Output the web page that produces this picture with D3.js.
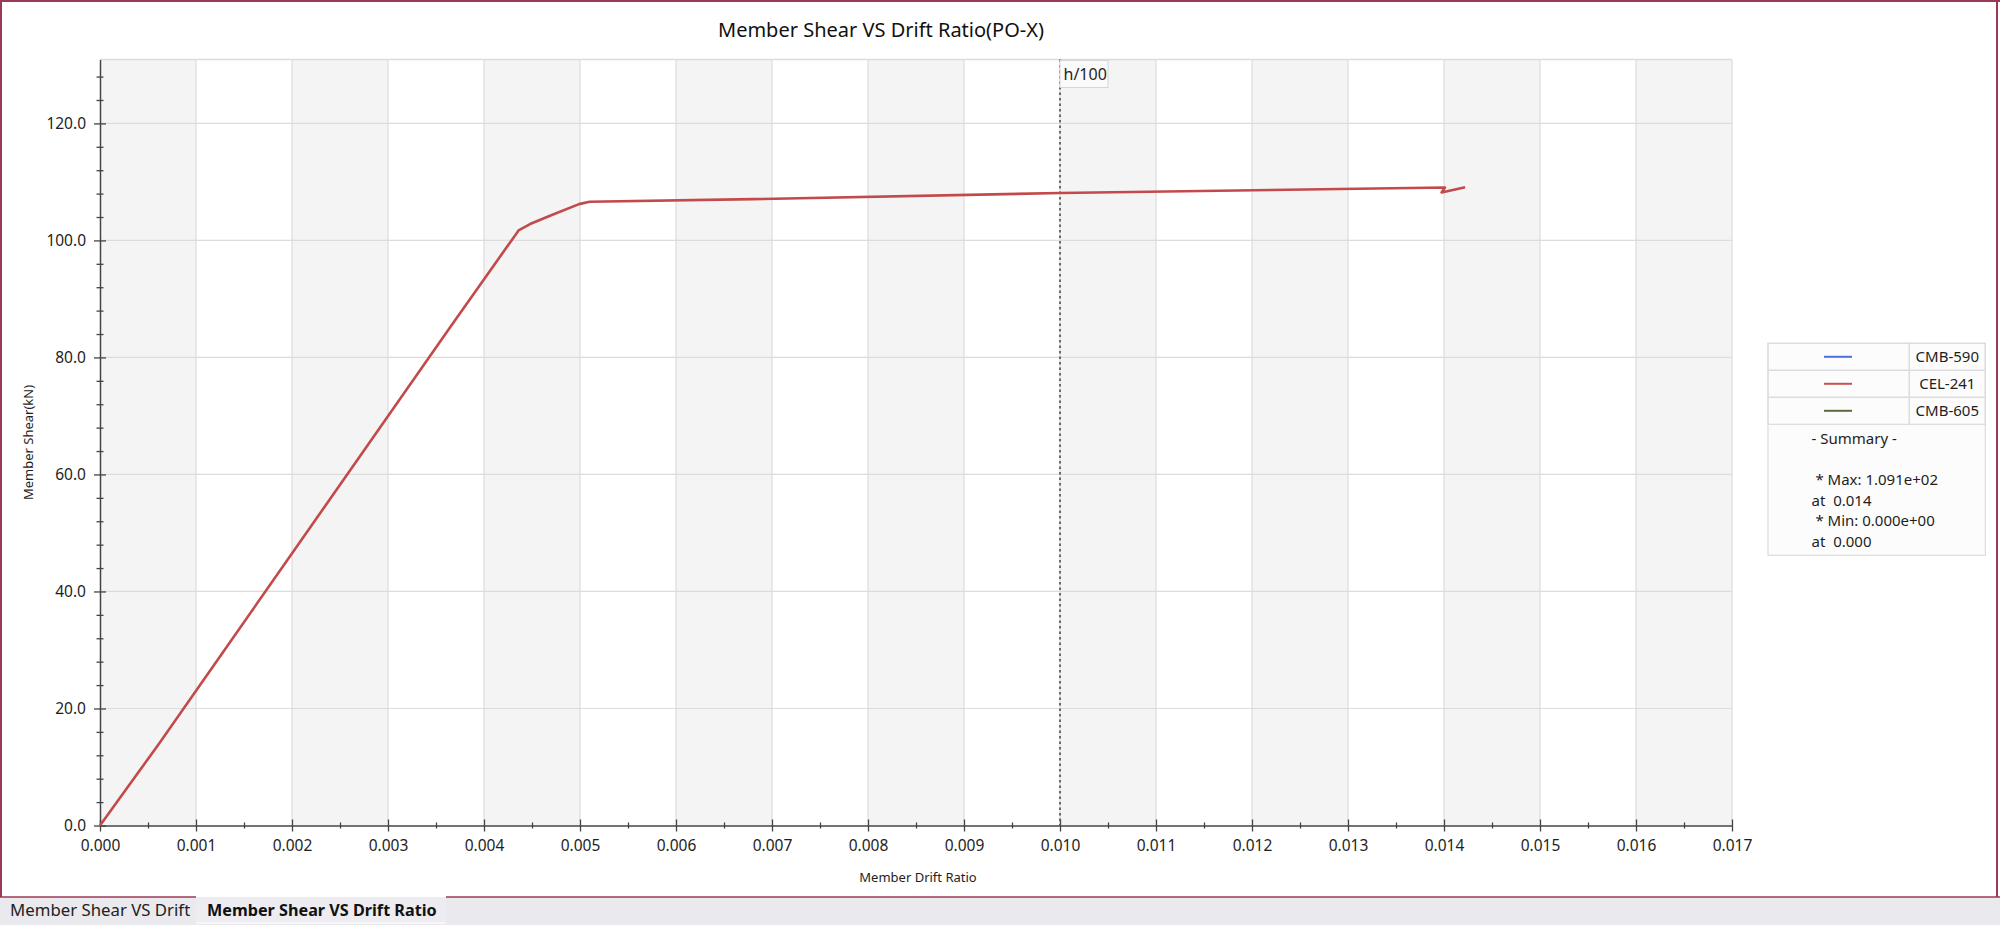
<!DOCTYPE html>
<html>
<head>
<meta charset="utf-8">
<script src="https://cdn.jsdelivr.net/npm/d3@7/dist/d3.min.js"></script>
<style>
  html, body { margin: 0; padding: 0; background: #fff; }
  svg { display: block; font-family: "Noto Sans", "Open Sans", sans-serif; }
</style>
</head>
<body>
<svg id="chart" width="2000" height="925"></svg>
<script>
// ---------------- data ----------------
const chartTitle = "Member Shear VS Drift Ratio(PO-X)";
const xLabel = "Member Drift Ratio";
const yLabel = "Member Shear(kN)";
const xDomain = [0, 0.017];
const yDomain = [0, 130.92];
const xMajorTicks = [0, 0.001, 0.002, 0.003, 0.004, 0.005, 0.006, 0.007, 0.008, 0.009, 0.010, 0.011, 0.012, 0.013, 0.014, 0.015, 0.016, 0.017];
const xMinorTicks = [0.0005, 0.0015, 0.0025, 0.0035, 0.0045, 0.0055, 0.0065, 0.0075, 0.0085, 0.0095, 0.0105, 0.0115, 0.0125, 0.0135, 0.0145, 0.0155, 0.0165];
const yMajorTicks = [0, 20, 40, 60, 80, 100, 120];
const yMinorTicks = [4, 8, 12, 16, 24, 28, 32, 36, 44, 48, 52, 56, 64, 68, 72, 76, 84, 88, 92, 96, 104, 108, 112, 116, 124, 128];

// CEL-241 curve
const driftRatio  = [0, 0.00062, 0.00364, 0.00436, 0.00448, 0.0047, 0.00499, 0.0051, 0.0068, 0.0100, 0.01401, 0.013975, 0.01422];
const memberShear = [0, 14.1,    85.0,    101.7,   102.8,   104.3,  106.2,   106.6,  107.05, 108.1,  109.05,  108.2,    109.1];

const refLineX = 0.010;
const refLineLabel = "h/100";

const seriesNames = ["CMB-590", "CEL-241", "CMB-605"];
const seriesColors = ["#4a6fdc", "#c8504f", "#5a6b3c"];
const summaryLines = ["- Summary -", "", " * Max: 1.091e+02", "at  0.014", " * Min: 0.000e+00", "at  0.000"];
const tabLabels = ["Member Shear VS Drift", "Member Shear VS Drift Ratio"];

// ---------------- layout ----------------
const svg = d3.select("#chart");
const L = 100, R = 1732, T = 59.5, B = 825.5;
const x = d3.scaleLinear().domain(xDomain).range([L, R]);
const y = d3.scaleLinear().domain(yDomain).range([B, T]);
const txt = "#1e1e1e";

// alternating column bands
const bands = d3.range(0, xMajorTicks.length - 1).filter(i => i % 2 === 0);
svg.append("g").selectAll("rect").data(bands).join("rect")
  .attr("x", i => x(xMajorTicks[i]))
  .attr("width", i => x(xMajorTicks[i + 1]) - x(xMajorTicks[i]))
  .attr("y", T).attr("height", B - T)
  .attr("fill", "#f4f4f4");

// grid
svg.append("g").selectAll("line").data(xMajorTicks.slice(1)).join("line")
  .attr("x1", d => x(d)).attr("x2", d => x(d))
  .attr("y1", T).attr("y2", B)
  .attr("stroke", "#dcdcdc").attr("stroke-width", 1.2);
svg.append("g").selectAll("line").data(yMajorTicks.slice(1)).join("line")
  .attr("x1", L).attr("x2", R)
  .attr("y1", d => y(d)).attr("y2", d => y(d))
  .attr("stroke", "#dcdcdc").attr("stroke-width", 1.2);
svg.append("line").attr("x1", L).attr("x2", R).attr("y1", T).attr("y2", T)
  .attr("stroke", "#dcdcdc").attr("stroke-width", 1.5);

// axes
function styleTicks(g, half, horizontal) {
  g.selectAll(".tick line")
    .attr("stroke", "#444").attr("stroke-width", 1.3)
    .each(function () {
      const s = d3.select(this);
      if (horizontal) s.attr("y1", -half).attr("y2", half);
      else s.attr("x1", -half).attr("x2", half);
    });
}
const xAxisMinor = svg.append("g").attr("transform", `translate(0,${B})`)
  .call(d3.axisBottom(x).tickValues(xMinorTicks).tickFormat("").tickSizeInner(3).tickSizeOuter(0));
xAxisMinor.select(".domain").remove();
styleTicks(xAxisMinor, 3, true);

const xAxis = svg.append("g").attr("transform", `translate(0,${B})`)
  .call(d3.axisBottom(x).tickValues(xMajorTicks).tickFormat(d3.format(".3f")).tickSizeInner(6).tickSizeOuter(0).tickPadding(8.5));
xAxis.select(".domain").attr("stroke", "#444").attr("stroke-width", 1.5);
styleTicks(xAxis, 6, true);
xAxis.selectAll("text").attr("font-size", 15.5).attr("fill", txt).attr("font-family", "Noto Sans");

const yAxisMinor = svg.append("g").attr("transform", `translate(${L},0)`)
  .call(d3.axisLeft(y).tickValues(yMinorTicks).tickFormat("").tickSizeInner(3.5).tickSizeOuter(0));
yAxisMinor.select(".domain").remove();
styleTicks(yAxisMinor, 3.5, false);

const yAxis = svg.append("g").attr("transform", `translate(${L},0)`)
  .call(d3.axisLeft(y).tickValues(yMajorTicks).tickFormat(d3.format(".1f")).tickSizeInner(6).tickSizeOuter(0).tickPadding(8));
yAxis.select(".domain").attr("stroke", "#444").attr("stroke-width", 1.5);
styleTicks(yAxis, 6, false);
yAxis.selectAll("text").attr("font-size", 15.5).attr("fill", txt).attr("font-family", "Noto Sans");

// reference line h/100
svg.append("line")
  .attr("x1", x(refLineX)).attr("x2", x(refLineX))
  .attr("y1", T).attr("y2", B)
  .attr("stroke", "#555").attr("stroke-width", 1.7).attr("stroke-dasharray", "2.5,3");
svg.append("rect")
  .attr("x", x(refLineX)).attr("y", T + 1).attr("width", 48).attr("height", 27)
  .attr("fill", "#fafafa").attr("stroke", "#d6d6d6");
svg.append("text")
  .attr("x", x(refLineX) + 3.5).attr("y", T + 20)
  .attr("font-size", 16).attr("fill", txt).text(refLineLabel);

// curve
const pts = driftRatio.map((d, i) => [d, memberShear[i]]);
svg.append("path").datum(pts)
  .attr("d", d3.line().x(d => x(d[0])).y(d => y(d[1])))
  .attr("fill", "none").attr("stroke", "#c24a4a").attr("stroke-width", 2.6)
  .attr("stroke-linejoin", "round");

// title and axis labels
svg.append("text").attr("x", 881).attr("y", 36.5).attr("text-anchor", "middle")
  .attr("font-size", 20).attr("fill", "#111").text(chartTitle);
svg.append("text").attr("x", 918).attr("y", 881.5).attr("text-anchor", "middle")
  .attr("font-size", 13).attr("fill", txt).text(xLabel);
svg.append("text").attr("transform", `translate(33,${(T + B) / 2}) rotate(-90)`)
  .attr("text-anchor", "middle").attr("font-size", 13).attr("fill", txt).text(yLabel);

// legend
const lgX = 1768, lgY = 343.3, lgW = 217.3, rowH = 27, colSplit = 1909.3;
const lg = svg.append("g");
lg.append("rect").attr("x", lgX).attr("y", lgY).attr("width", lgW).attr("height", 212)
  .attr("fill", "#fcfcfc").attr("stroke", "#dcdcdc").attr("stroke-width", 1.2);
const rows = lg.selectAll("g.row").data(seriesNames).join("g").attr("class", "row")
  .attr("transform", (d, i) => `translate(0,${lgY + i * rowH})`);
rows.append("rect").attr("x", lgX).attr("y", 0).attr("width", colSplit - lgX).attr("height", rowH)
  .attr("fill", "none").attr("stroke", "#dcdcdc").attr("stroke-width", 1.2);
rows.append("rect").attr("x", colSplit).attr("y", 0).attr("width", lgX + lgW - colSplit).attr("height", rowH)
  .attr("fill", "none").attr("stroke", "#dcdcdc").attr("stroke-width", 1.2);
rows.append("line").attr("x1", 1824).attr("x2", 1852).attr("y1", rowH / 2).attr("y2", rowH / 2)
  .attr("stroke", (d, i) => seriesColors[i]).attr("stroke-width", 2);
rows.append("text").attr("x", (colSplit + lgX + lgW) / 2).attr("y", rowH / 2 + 5.5)
  .attr("text-anchor", "middle").attr("font-size", 15).attr("fill", txt).text(d => d);
lg.selectAll("text.sum").data(summaryLines).join("text").attr("class", "sum")
  .attr("x", 1811.5).attr("y", (d, i) => 443.5 + i * 20.7)
  .attr("font-size", 15).attr("fill", txt).attr("xml:space", "preserve")
  .style("white-space", "pre").text(d => d);

// window frame and bottom tabs
svg.append("rect").attr("x", 0).attr("y", 897).attr("width", 2000).attr("height", 28).attr("fill", "#e9e9ee");
svg.append("rect").attr("x", 196).attr("y", 897).attr("width", 250).attr("height", 26).attr("fill", "#ececf1");
svg.append("line").attr("x1", 196).attr("x2", 446).attr("y1", 923).attr("y2", 923).attr("stroke", "#fafafa").attr("stroke-width", 1.5);
const frame = "#9b3a55";
svg.append("line").attr("x1", 0).attr("x2", 2000).attr("y1", 1).attr("y2", 1).attr("stroke", frame).attr("stroke-width", 2);
svg.append("line").attr("x1", 1).attr("x2", 1).attr("y1", 0).attr("y2", 897).attr("stroke", frame).attr("stroke-width", 2);
svg.append("line").attr("x1", 1997).attr("x2", 1997).attr("y1", 0).attr("y2", 897).attr("stroke", frame).attr("stroke-width", 2);
svg.append("line").attr("x1", 0).attr("x2", 196).attr("y1", 897).attr("y2", 897).attr("stroke", frame).attr("stroke-width", 1.5);
svg.append("line").attr("x1", 446).attr("x2", 2000).attr("y1", 897).attr("y2", 897).attr("stroke", frame).attr("stroke-width", 1.5);
svg.append("text").attr("x", 10).attr("y", 916).attr("font-size", 16.8).attr("fill", "#222").text(tabLabels[0]);
svg.append("text").attr("x", 207).attr("y", 916).attr("font-size", 16.2).attr("font-weight", "bold").attr("fill", "#111").text(tabLabels[1]);
</script>
</body>
</html>
